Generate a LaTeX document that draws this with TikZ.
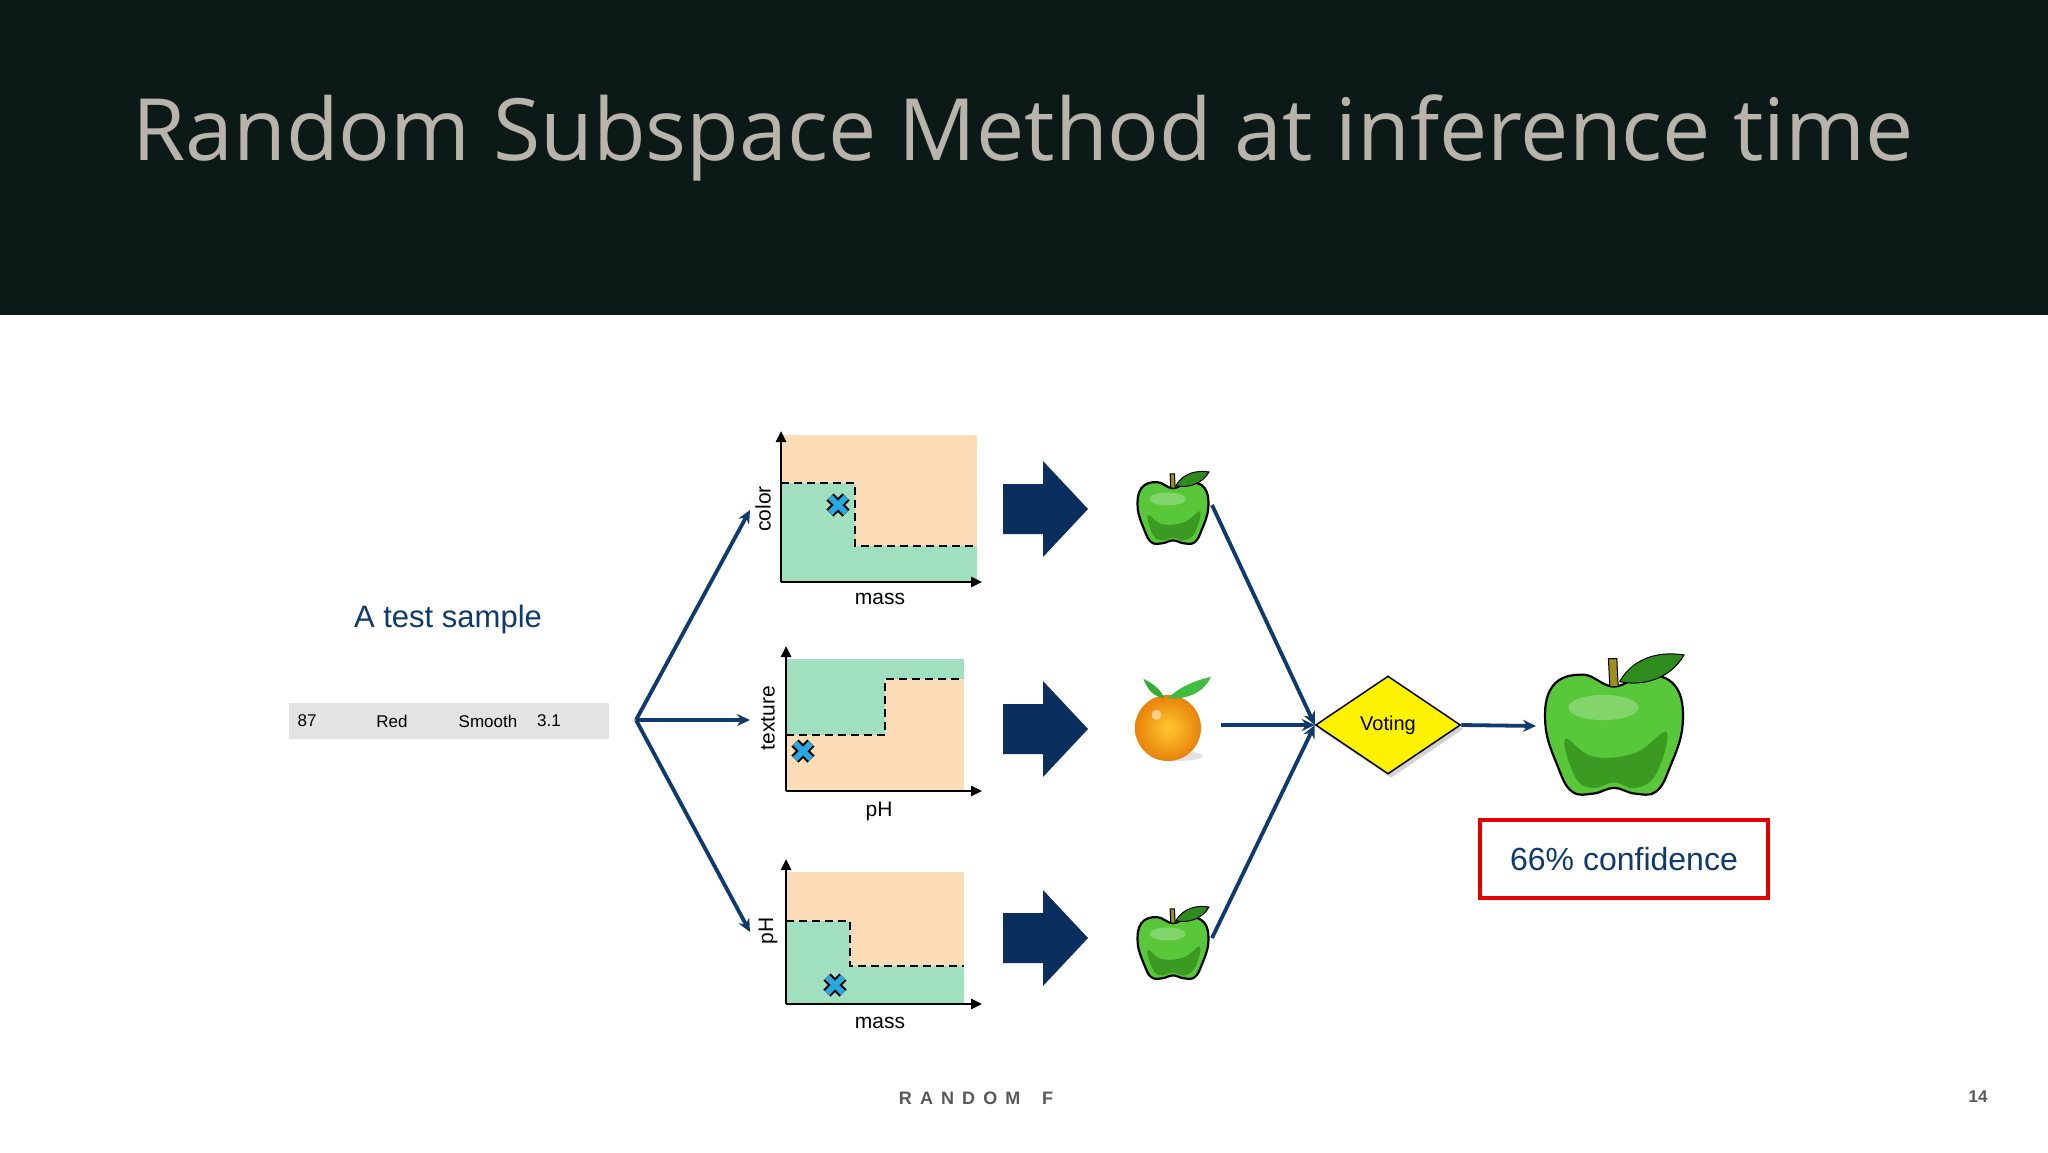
\documentclass[tikz,border=0pt]{standalone}
\usepackage{fontspec}
\setmainfont{Liberation Sans}
\newfontfamily\titlefont{Open Sans}
\usetikzlibrary{shapes.geometric,arrows.meta,shadows}
\definecolor{band}{HTML}{0B1A17}
\definecolor{ttl}{HTML}{B8B3AB}
\definecolor{navy}{HTML}{0F3A6E}
\definecolor{arrowblue}{HTML}{0A2E5E}
\definecolor{peach}{HTML}{FCDDB8}
\definecolor{mint}{HTML}{A0E0BE}
\definecolor{xblue}{HTML}{2AA8E0}
\definecolor{applegreen}{HTML}{58C83A}
\definecolor{appledark}{HTML}{3A9A22}
\definecolor{leafgreen}{HTML}{2E8B1E}
\definecolor{orin}{HTML}{FFC830}
\definecolor{orout}{HTML}{E8820A}
\tikzset{
  conn/.style={draw=navy,line width=3.8pt,-{Stealth[length=13pt,width=12pt]}},
  axis/.style={draw=black,line width=2.5pt,-{Triangle[length=11pt,width=10pt]}},
  bound/.style={draw=black,line width=2.5pt,dash pattern=on 8pt off 5pt},
  lbl/.style={font=\fontsize{21}{24}\selectfont},
  bigarrow/.style={fill=arrowblue},
  apple/.pic={
    \path[fill=applegreen,draw=black,line width=2.2pt] plot[smooth cycle,tension=0.7] coordinates{
      (0,-0.55) (-0.45,-0.72) (-0.88,-0.55) (-0.98,0.0) (-0.8,0.6) (-0.6,0.95) (-0.3,0.98) (0,0.9) (0.3,0.98) (0.6,0.95) (0.8,0.6) (0.98,0.0) (0.88,-0.55) (0.45,-0.72)};
    \path[fill=appledark] plot[smooth cycle,tension=0.7] coordinates{(-0.7,0.2) (-0.3,0.45) (0.3,0.4) (0.75,0.1) (0.6,0.7) (0.3,0.9) (0,0.82) (-0.3,0.9) (-0.55,0.75)};
    \path[fill=white,opacity=0.25] (-0.15,-0.25) ellipse[x radius=0.5,y radius=0.18];
    \path[fill=olive!70!brown,draw=black,line width=1pt] (-0.06,-0.55) -- (-0.08,-0.95) -- (0.04,-0.95) -- (0.06,-0.55) -- cycle;
    \path[fill=leafgreen,draw=black,line width=1pt] (0.08,-0.62) .. controls (0.3,-1.0) and (0.7,-1.05) .. (1.0,-1.0) .. controls (0.8,-0.65) and (0.4,-0.55) .. (0.08,-0.62);
  },
  orangefruit/.pic={
    \path[fill=gray!40,opacity=0.6] (0.25,0.85) ellipse[x radius=0.8,y radius=0.15];
    \shade[inner color=orin,outer color=orout] (0,0) circle[radius=1];
    \path[fill=white,opacity=0.5] (-0.35,-0.4) circle[radius=0.15];
    \path[fill=green!60!black!80] (-0.1,-0.9) .. controls (-0.3,-1.3) and (-0.6,-1.4) .. (-0.75,-1.5) .. controls (-0.6,-1.1) and (-0.4,-0.95) .. (-0.1,-0.9);
    \path[fill=green!65!black!75] (0.0,-0.9) .. controls (0.4,-1.3) and (0.9,-1.45) .. (1.3,-1.55) .. controls (1.1,-1.1) and (0.6,-0.85) .. (0.0,-0.9);
  },
  xmark/.pic={
    \draw[black,line width=10pt] (-8,-8) -- (8,8) (-8,8) -- (8,-8);
    \draw[xblue,line width=6pt] (-8,-8) -- (8,8) (-8,8) -- (8,-8);
  }
}
\begin{document}
\begin{tikzpicture}[x=1pt,y=-1pt]
\useasboundingbox (0,0) rectangle (2048,1152);
\fill[white] (0,0) rectangle (2048,1152);
\fill[band] (0,0) rectangle (2048,315);
\node[text=ttl,font=\titlefont\fontsize{86}{96}\selectfont] (title) at (1023,138) {Random Subspace Method at inference time};

% test sample
\node[text=navy,font=\fontsize{31}{36}\selectfont] (ts) at (448,619) {A test sample};
\fill[gray!22] (289,703) rectangle (609,739);
\node[font=\fontsize{17}{20}\selectfont] (v1) at (307,721) {87};
\node[font=\fontsize{17}{20}\selectfont] (v2) at (392,721) {Red};
\node[font=\fontsize{17}{20}\selectfont] (v3) at (488,721) {Smooth};
\node[font=\fontsize{17}{20}\selectfont] (v4) at (549,721) {3.1};
\coordinate (br) at (636,720);
\coordinate (t1) at (750,510);
\coordinate (t2) at (750,720);
\coordinate (t3) at (750,932);
\draw[conn] (br) -- (t1);
\draw[conn] (br) -- (t2);
\draw[conn] (br) -- (t3);

% plot 1
\fill[peach] (781,435) rectangle (977,582);
\fill[mint] (781,483) -| (855,546) -| (977,582) -| cycle;
\draw[bound] (781,483) -| (855,546) -- (977,546);
\coordinate (o1) at (781,582);
\draw[axis] (o1) -- (781,431);
\draw[axis] (o1) -- (982,582);
\pic at (838,505) {xmark};
\node[lbl,rotate=90] (c1) at (763,509) {color};
\node[lbl] (m1) at (880,599) {mass};

% plot 2
\fill[peach] (786,659) rectangle (964,791);
\fill[mint] (786,659) rectangle (964,679);
\fill[mint] (786,679) rectangle (885,735);
\draw[bound] (786,735) -| (885,679) -- (964,679);
\coordinate (o2) at (786,791);
\draw[axis] (o2) -- (786,646);
\draw[axis] (o2) -- (982,791);
\pic at (803,751) {xmark};
\node[lbl,rotate=90] (c2) at (768,718) {texture};
\node[lbl] (m2) at (879,811) {pH};

% plot 3
\fill[peach] (786,872) rectangle (964,1004);
\fill[mint] (786,921) -| (850,966) -| (964,1004) -| cycle;
\draw[bound] (786,921) -| (850,966) -- (964,966);
\coordinate (o3) at (786,1004);
\draw[axis] (o3) -- (786,859);
\draw[axis] (o3) -- (982,1004);
\pic at (835,985) {xmark};
\node[lbl,rotate=90] (c3) at (768,931) {pH};
\node[lbl] (m3) at (880,1023) {mass};

% big arrows
\foreach \yy in {509,729,938}{
  \fill[bigarrow] (1003,\yy-25) -- (1043,\yy-25) -- (1043,\yy-48) -- (1088,\yy) -- (1043,\yy+48) -- (1043,\yy+25) -- (1003,\yy+25) -- cycle;
}

% fruits
\pic[scale=36] at (1173,508) {apple};
\pic[scale=33] at (1168,728) {orangefruit};
\pic[scale=36] at (1173,943) {apple};
\pic[scale=70] at (1614,725) {apple};
\coordinate (a1) at (1212,505);
\coordinate (a2) at (1221,725);
\coordinate (a3) at (1212,938);

% voting
\node[diamond,draw=black,line width=1.5pt,fill=yellow,minimum width=145pt,minimum height=98pt,inner sep=0pt,aspect=1.5,drop shadow={shadow xshift=3pt,shadow yshift=-4pt,opacity=0.35},font=\fontsize{20}{24}\selectfont] (vote) at (1388,725) {Voting};
\draw[conn] (a1) -- (vote.west);
\draw[conn] (a2) -- (vote.west);
\draw[conn] (a3) -- (vote.west);
\coordinate (out) at (1536,726);
\draw[conn] (vote.east) -- (out);

% confidence
\node[draw=red!90!black,line width=3.5pt,minimum width=288pt,minimum height=78pt,text=navy,font=\fontsize{32}{36}\selectfont] (conf) at (1624,859) {66\% confidence};

% footer
\node[text=gray!70!black,font=\bfseries\fontsize{18}{20}\selectfont] (foot) at (976,1098) {R\hspace{0.45em}A\hspace{0.45em}N\hspace{0.45em}D\hspace{0.45em}O\hspace{0.45em}M\hspace{1.2em}F};
\node[text=gray!70!black,font=\bfseries\fontsize{17}{20}\selectfont] (pg) at (1978,1097) {14};
\end{tikzpicture}
\end{document}
